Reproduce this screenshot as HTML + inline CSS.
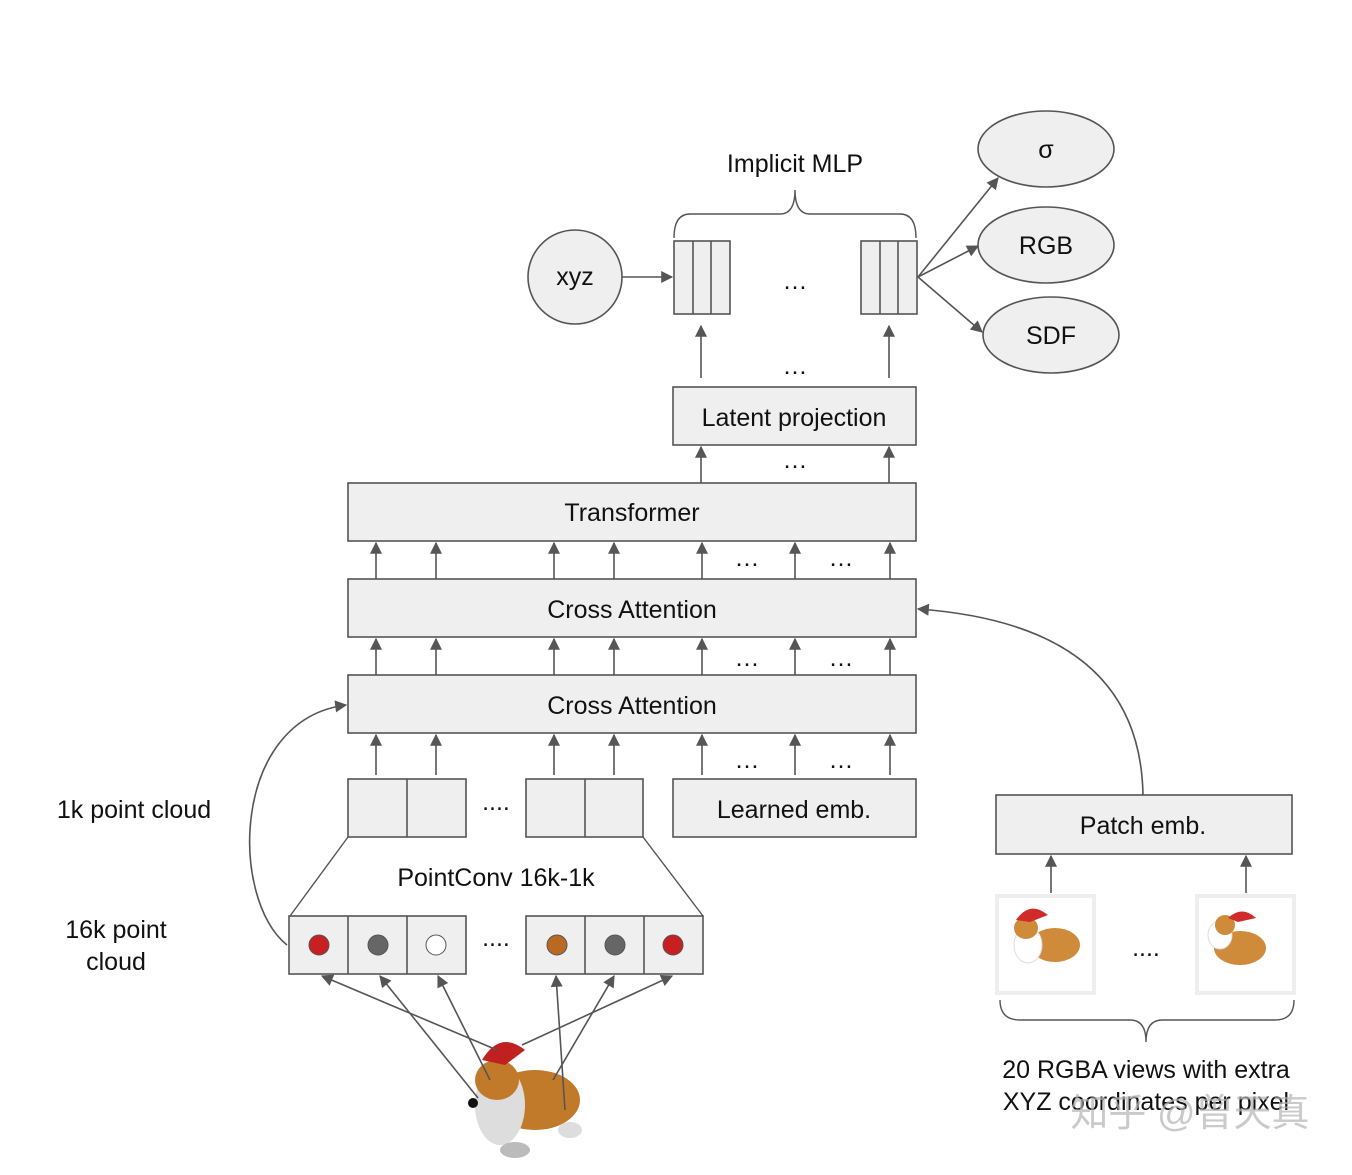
<!DOCTYPE html>
<html><head><meta charset="utf-8"><style>
body{margin:0;background:#fff}
svg text{font-family:"Liberation Sans","Noto Sans CJK SC",sans-serif;fill:#111}
</style></head><body>
<svg width="1352" height="1170" viewBox="0 0 1352 1170" xmlns="http://www.w3.org/2000/svg">
<defs>
<marker id="a" viewBox="0 0 10 10" refX="9" refY="5" markerWidth="13" markerHeight="12" markerUnits="userSpaceOnUse" orient="auto"><path d="M0,0L10,5L0,10z" fill="#555"/></marker>
</defs>
<g stroke="#555" stroke-width="1.6" fill="#efefef">
<circle cx="575" cy="277" r="47"/>
<ellipse cx="1046" cy="149" rx="68" ry="38"/>
<ellipse cx="1046" cy="245" rx="68" ry="38"/>
<ellipse cx="1051" cy="335" rx="68" ry="38"/>
<rect x="674" y="241" width="56" height="73"/>
<line x1="693" y1="241" x2="693" y2="314"/><line x1="711" y1="241" x2="711" y2="314"/>
<rect x="861" y="241" width="56" height="73"/>
<line x1="880" y1="241" x2="880" y2="314"/><line x1="898" y1="241" x2="898" y2="314"/>
<rect x="673" y="387" width="243" height="58"/>
<rect x="348" y="483" width="568" height="58"/>
<rect x="348" y="579" width="568" height="58"/>
<rect x="348" y="675" width="568" height="58"/>
<rect x="348" y="779" width="118" height="58"/><line x1="407" y1="779" x2="407" y2="837"/>
<rect x="526" y="779" width="117" height="58"/><line x1="585" y1="779" x2="585" y2="837"/>
<rect x="673" y="779" width="243" height="58"/>
<rect x="996" y="795" width="296" height="59"/>
<rect x="289" y="916" width="177" height="58"/><line x1="348" y1="916" x2="348" y2="974"/><line x1="407" y1="916" x2="407" y2="974"/>
<rect x="526" y="916" width="177" height="58"/><line x1="585" y1="916" x2="585" y2="974"/><line x1="644" y1="916" x2="644" y2="974"/>
</g>
<g stroke="#eee" stroke-width="4" fill="#fff">
<rect x="997" y="896" width="97" height="97"/>
<rect x="1197" y="896" width="97" height="97"/>
</g>
<circle cx="319" cy="945" r="10" fill="#c62020" stroke="#555"/>
<circle cx="378" cy="945" r="10" fill="#666" stroke="#555"/>
<circle cx="436" cy="945" r="10" fill="#fff" stroke="#555"/>
<circle cx="557" cy="945" r="10" fill="#b86a22" stroke="#555"/>
<circle cx="615" cy="945" r="10" fill="#666" stroke="#555"/>
<circle cx="673" cy="945" r="10" fill="#c62020" stroke="#555"/>
<g>
<ellipse cx="535" cy="1100" rx="45" ry="30" fill="#c07a2a"/>
<ellipse cx="500" cy="1105" rx="25" ry="40" fill="#ddd"/>
<ellipse cx="497" cy="1080" rx="22" ry="20" fill="#c07a2a"/>
<path d="M482,1060 Q500,1030 525,1050 L505,1065z" fill="#c02020"/>
<circle cx="473" cy="1103" r="5" fill="#111"/>
<ellipse cx="515" cy="1150" rx="15" ry="8" fill="#bbb"/>
<ellipse cx="570" cy="1130" rx="12" ry="8" fill="#ddd"/>
</g>
<g>
<ellipse cx="1055" cy="945" rx="25" ry="17" fill="#cf8a3a"/>
<ellipse cx="1028" cy="945" rx="14" ry="18" fill="#fff" stroke="#ddd"/>
<ellipse cx="1026" cy="928" rx="12" ry="11" fill="#cf8a3a"/>
<path d="M1016,920 Q1030,900 1048,915 L1030,922z" fill="#d02a2a"/>
<ellipse cx="1240" cy="948" rx="26" ry="17" fill="#cf8a3a"/>
<ellipse cx="1220" cy="935" rx="12" ry="14" fill="#fff" stroke="#ddd"/>
<ellipse cx="1225" cy="925" rx="10" ry="10" fill="#cf8a3a"/>
<path d="M1228,918 Q1242,905 1256,918 L1238,922z" fill="#d02a2a"/>
</g>
<g stroke="#555" stroke-width="1.6" fill="none" marker-end="url(#a)">
<line x1="622" y1="277" x2="672" y2="277"/>
<line x1="918" y1="277" x2="998" y2="178"/>
<line x1="918" y1="277" x2="978" y2="246"/>
<line x1="918" y1="277" x2="982" y2="332"/>
<line x1="701" y1="378" x2="701" y2="326"/>
<line x1="889" y1="378" x2="889" y2="326"/>
<line x1="701" y1="483" x2="701" y2="447"/>
<line x1="889" y1="483" x2="889" y2="447"/>
<line x1="376" y1="579" x2="376" y2="543"/><line x1="436" y1="579" x2="436" y2="543"/><line x1="554" y1="579" x2="554" y2="543"/><line x1="614" y1="579" x2="614" y2="543"/><line x1="702" y1="579" x2="702" y2="543"/><line x1="795" y1="579" x2="795" y2="543"/><line x1="890" y1="579" x2="890" y2="543"/>
<line x1="376" y1="675" x2="376" y2="639"/><line x1="436" y1="675" x2="436" y2="639"/><line x1="554" y1="675" x2="554" y2="639"/><line x1="614" y1="675" x2="614" y2="639"/><line x1="702" y1="675" x2="702" y2="639"/><line x1="795" y1="675" x2="795" y2="639"/><line x1="890" y1="675" x2="890" y2="639"/>
<line x1="376" y1="775" x2="376" y2="735"/><line x1="436" y1="775" x2="436" y2="735"/><line x1="554" y1="775" x2="554" y2="735"/><line x1="614" y1="775" x2="614" y2="735"/><line x1="702" y1="775" x2="702" y2="735"/><line x1="795" y1="775" x2="795" y2="735"/><line x1="890" y1="775" x2="890" y2="735"/>
<line x1="1051" y1="893" x2="1051" y2="856"/>
<line x1="1246" y1="893" x2="1246" y2="856"/>
<path d="M1143,795 Q1140,625 918,609"/>
<path d="M287,945 C230,900 230,720 346,705"/>
<line x1="497" y1="1050" x2="322" y2="976"/>
<line x1="478" y1="1098" x2="380" y2="976"/>
<line x1="490" y1="1080" x2="438" y2="976"/>
<line x1="565" y1="1110" x2="556" y2="976"/>
<line x1="553" y1="1080" x2="614" y2="976"/>
<line x1="522" y1="1045" x2="672" y2="976"/>
</g>
<g stroke="#555" stroke-width="1.4" fill="none">
<line x1="348" y1="837" x2="290" y2="916"/>
<line x1="643" y1="837" x2="703" y2="916"/>
<path d="M674,238 Q674,214 690,214 L780,214 Q795,214 795,190 Q795,214 810,214 L900,214 Q916,214 916,238"/>
<path d="M1000,1000 Q1000,1020 1020,1020 L1130,1020 Q1146,1020 1146,1042 Q1146,1020 1162,1020 L1275,1020 Q1294,1020 1294,1000"/>
</g>
<g font-size="25" text-anchor="middle">
<text x="795" y="172">Implicit MLP</text>
<text x="575" y="285">xyz</text>
<text x="1046" y="158">σ</text>
<text x="1046" y="254">RGB</text>
<text x="1051" y="344">SDF</text>
<text x="795" y="289">…</text>
<text x="795" y="374">…</text>
<text x="795" y="468">…</text>
<text x="794" y="426">Latent projection</text>
<text x="632" y="521">Transformer</text>
<text x="632" y="618">Cross Attention</text>
<text x="632" y="714">Cross Attention</text>
<text x="794" y="818">Learned emb.</text>
<text x="1143" y="834">Patch emb.</text>
<text x="496" y="886">PointConv 16k-1k</text>
<text x="134" y="818">1k point cloud</text>
<text x="116" y="938">16k point</text>
<text x="116" y="970">cloud</text>
<text x="747" y="566">…</text><text x="841" y="566">…</text>
<text x="747" y="666">…</text><text x="841" y="666">…</text>
<text x="747" y="768">…</text><text x="841" y="768">…</text>
<text x="496" y="810">....</text>
<text x="496" y="946">....</text>
<text x="1146" y="956">....</text>
<text x="1146" y="1078">20 RGBA views with extra</text>
<text x="1146" y="1110">XYZ coordinates per pixel</text>
</g>
<text x="1190" y="1126" font-size="38" text-anchor="middle" style="fill:rgba(180,180,180,0.7)">知乎 @曾天真</text>
</svg>
</body></html>
